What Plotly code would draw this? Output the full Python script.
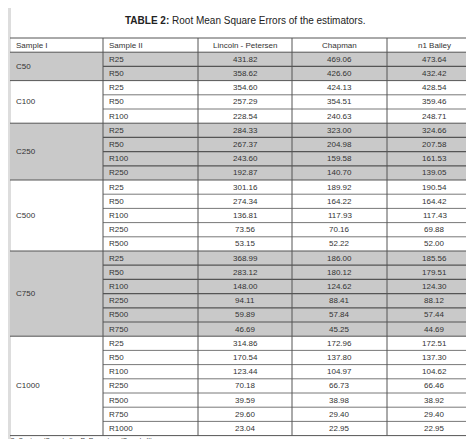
import plotly.graph_objects as go

headers = ["Sample I", "Sample II", "Lincoln - Petersen", "Chapman", "n1 Bailey"]
groups = ["C50", "C100", "C250", "C500", "C750", "C1000"]
recaptures = [
    ["R25", "R50"],
    ["R25", "R50", "R100"],
    ["R25", "R50", "R100", "R250"],
    ["R25", "R50", "R100", "R250", "R500"],
    ["R25", "R50", "R100", "R250", "R500", "R750"],
    ["R25", "R50", "R100", "R250", "R500", "R750", "R1000"],
]
lincoln = [431.82, 358.62, 354.60, 257.29, 228.54, 284.33, 267.37, 243.60, 192.87,
           301.16, 274.34, 136.81, 73.56, 53.15, 368.99, 283.12, 148.00, 94.11, 59.89, 46.69,
           314.86, 170.54, 123.44, 70.18, 39.59, 29.60, 23.04]
chapman = [469.06, 426.60, 424.13, 354.51, 240.63, 323.00, 204.98, 159.58, 140.70,
           189.92, 164.22, 117.93, 70.16, 52.22, 186.00, 180.12, 124.62, 88.41, 57.84, 45.25,
           172.96, 137.80, 104.97, 66.73, 38.98, 29.40, 22.95]
bailey = [473.64, 432.42, 428.54, 359.46, 248.71, 324.66, 207.58, 161.53, 139.05,
          190.54, 164.42, 117.43, 69.88, 52.00, 185.56, 179.51, 124.30, 88.12, 57.44, 44.69,
          172.51, 137.30, 104.62, 66.46, 38.92, 29.40, 22.95]
shaded = [True, False, True, False, True, False]

col_x = [2, 95, 190, 284, 379, 474]
top = 30
rh = 14.2
gray = "#c9c9c9"
line = "#555555"
font = dict(family="Liberation Sans", size=8, color="#333333")

fig = go.Figure()
shapes = []
ann = []

def row_y(i):
    return top + i * rh

# left light bar
shapes.append(dict(type="rect", x0=0, x1=3, y0=0, y1=439, fillcolor="#dddddd", line_width=0, layer="below"))

# header
for c, h in enumerate(headers):
    xa = col_x[c] + 4 if c < 2 else (col_x[c] + col_x[c + 1]) / 2
    ann.append(dict(x=xa, y=row_y(0) + rh / 2, text=h, showarrow=False,
                    xanchor="left" if c < 2 else "center", font=font))

r = 1
k = 0
for g, name in enumerate(groups):
    n = len(recaptures[g])
    y0, y1 = row_y(r), row_y(r + n)
    if shaded[g]:
        shapes.append(dict(type="rect", x0=col_x[0], x1=col_x[-1], y0=y0, y1=y1,
                           fillcolor=gray, line_width=0, layer="below"))
    ann.append(dict(x=col_x[0] + 4, y=(y0 + y1) / 2, text=name, showarrow=False,
                    xanchor="left", font=font))
    shapes.append(dict(type="line", x0=col_x[0], x1=col_x[-1], y0=y0, y1=y0,
                       line=dict(color=line, width=1)))
    for j, rc in enumerate(recaptures[g]):
        yr = row_y(r + j)
        if j > 0:
            shapes.append(dict(type="line", x0=col_x[1], x1=col_x[-1], y0=yr, y1=yr,
                               line=dict(color=line, width=0.8 if not shaded[g] else 1.2)))
        yc = yr + rh / 2
        ann.append(dict(x=col_x[1] + 4, y=yc, text=rc, showarrow=False, xanchor="left", font=font))
        for c, vals in zip([2, 3, 4], [lincoln, chapman, bailey]):
            ann.append(dict(x=(col_x[c] + col_x[c + 1]) / 2, y=yc, text=f"{vals[k]:.2f}",
                            showarrow=False, font=font))
        k += 1
    r += n

bottom = row_y(r)
shapes.append(dict(type="line", x0=col_x[0], x1=col_x[-1], y0=top, y1=top, line=dict(color=line, width=1)))
shapes.append(dict(type="line", x0=col_x[0], x1=col_x[-1], y0=bottom, y1=bottom, line=dict(color=line, width=1)))
for xv in col_x[1:-1]:
    shapes.append(dict(type="line", x0=xv, x1=xv, y0=top, y1=bottom, line=dict(color=line, width=1)))

ann.append(dict(x=237, y=12, text="<b>TABLE 2:</b> Root Mean Square Errors of the estimators.",
                showarrow=False, font=dict(family="Liberation Sans", size=10, color="#222222")))
ann.append(dict(x=0, y=bottom + 5, text="C: Capture (Sample I)    R: Recapture (Sample II)",
                showarrow=False, xanchor="left", font=dict(family="Liberation Sans", size=6.5, color="#444444")))

# invisible trace so axes exist
fig.add_trace(go.Scatter(x=[0, 474], y=[0, 439], mode="markers", marker=dict(opacity=0),
                         hoverinfo="skip", showlegend=False))
fig.update_layout(
    width=474, height=439, margin=dict(l=0, r=0, t=0, b=0),
    plot_bgcolor="white", paper_bgcolor="white",
    xaxis=dict(range=[0, 474], visible=False, fixedrange=True),
    yaxis=dict(range=[439, 0], visible=False, fixedrange=True),
    shapes=shapes, annotations=ann,
)
fig.write_html("out.html")
